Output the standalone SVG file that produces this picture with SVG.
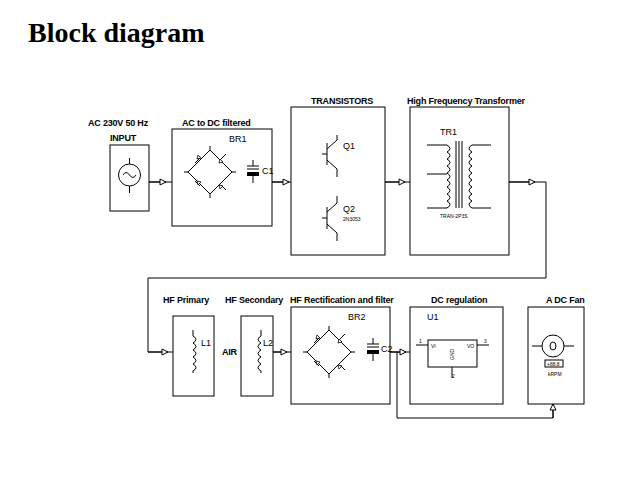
<svg xmlns="http://www.w3.org/2000/svg" width="638" height="478" viewBox="0 0 638 478">
<defs>
<style>
.b{fill:#fff;stroke:#000;stroke-width:1}
.w{fill:none;stroke:#000;stroke-width:1}
.t{font-family:"Liberation Sans",Arial,sans-serif;font-size:9px;font-weight:bold;letter-spacing:-0.2px}
.s{font-family:"Liberation Sans",Arial,sans-serif;font-size:9px}
.xs{font-family:"Liberation Sans",Arial,sans-serif;font-size:5px}
</style>
<marker id="a" markerWidth="8" markerHeight="8" refX="7" refY="4" orient="auto" markerUnits="userSpaceOnUse"><path d="M1,1 L7,4 L1,7 Z" fill="#fff" stroke="#000" stroke-width="1"/></marker>
<g id="bridge"><path d="M0,-22 L22,0 L0,22 L-22,0 Z M0,-26 L0,-22 M0,22 L0,26 M-26,0 L-22,0 M22,0 L26,0" class="w"/>
<path d="M-13,-13 l4,-1 l-3,-3 z M9,-9 l4,-1 l-3,-3 z M-13,9 l4,1 l-3,3 z M9,13 l4,1 l-3,3 z" fill="#fff" stroke="#000" stroke-width="0.8"/>
<path d="M-15,-9 l5,-5 M11,-13 l5,-5 M-15,9 l5,5 M11,13 l5,5" class="w"/></g>
</defs>
<text x="28" y="42" font-family="Liberation Serif,serif" font-size="28" font-weight="bold">Block diagram</text>
<g id="connectors" class="w">
<path d="M149,182 H172"/><path d="M149,182 H166" marker-end="url(#a)" class="w"/>
<path d="M272,182 H291"/><path d="M272,182 H289" marker-end="url(#a)" class="w"/>
<path d="M385,182 H410"/><path d="M385,182 H405" marker-end="url(#a)" class="w"/>
<path d="M509,182 H546 V278 H148 V352 H173"/>
<path d="M509,182 H535" marker-end="url(#a)" class="w"/>
<path d="M148,352 H168" marker-end="url(#a)" class="w"/>
<path d="M273,352 H291"/><path d="M273,352 H287" marker-end="url(#a)" class="w"/>
<path d="M390,352 H410"/><path d="M390,352 H406" marker-end="url(#a)" class="w"/>
<path d="M397,352 V418 H553 V404"/><path d="M553,418 V404" marker-end="url(#a)" class="w"/>
</g>
<g id="input"><text x="88" y="126" class="t">AC 230V 50 Hz</text><text x="110" y="141" class="t">INPUT</text>
<rect x="110" y="145" width="39" height="66" class="b"/>
<circle cx="129.5" cy="175" r="11" class="w"/><path d="M123,175 q3,-5 6.5,0 t6.5,0 M129.5,158 V164 M129.5,186 V193" class="w"/></g>
<g id="acdc"><text x="182" y="126" class="t">AC to DC filtered</text>
<rect x="172" y="129" width="100" height="97" class="b"/><text x="229" y="142" class="s">BR1</text>
<use href="#bridge" x="210" y="172"/>
<path d="M253,160 V166 M247,166 H259 M247,169 H259 M253,176 V183" class="w"/><rect x="247" y="172" width="12" height="4" fill="#000"/><text x="262" y="174" class="s">C1</text></g>
<g id="trans"><text x="311" y="104" class="t">TRANSISTORS</text>
<rect x="291" y="107" width="94" height="148" class="b"/>
<path d="M327,143 V165 M322,154 H327 M327,149 L337,140 V135 M327,160 L337,169 V177 M327,207 V229 M322,218 H327 M327,212 L337,203 V196 M327,224 L337,233 V241" class="w"/>
<text x="343" y="149" class="s">Q1</text><text x="343" y="212" class="s">Q2</text><text x="343" y="221" class="xs">2N3053</text></g>
<g id="hft"><text x="407" y="104" class="t">High Frequency Transformer</text>
<rect x="410" y="107" width="99" height="148" class="b"/><text x="440" y="135" class="s">TR1</text>
<path d="M427,145 H447 q6,3.5 0,7 q6,3.5 0,7 q6,3.5 0,7 q6,3.5 0,7 q6,3.5 0,7 q6,3.5 0,7 q6,3.5 0,7 q6,3.5 0,7 q6,3.5 0,7 H427 M427,174 H447 M456,141 V208 M459,141 V208 M462,141 V208 M491,145 H472 q-6,3.5 0,7 q-6,3.5 0,7 q-6,3.5 0,7 q-6,3.5 0,7 q-6,3.5 0,7 q-6,3.5 0,7 q-6,3.5 0,7 q-6,3.5 0,7 q-6,3.5 0,7 H491" class="w"/>
<text x="440" y="218" class="xs">TRAN-2P3S</text></g>
<g id="hfp"><text x="163" y="303" class="t">HF Primary</text><rect x="173" y="316" width="41" height="80" class="b"/>
<path d="M193,330 V336 q6,3.5 0,7 q6,3.5 0,7 q6,3.5 0,7 q6,3.5 0,7 q6,3.5 0,7 V373" class="w"/><text x="201" y="346" class="s">L1</text></g>
<text x="222" y="355" class="t">AIR</text>
<g id="hfs"><text x="225" y="303" class="t">HF Secondary</text><rect x="241" y="316" width="32" height="80" class="b"/>
<path d="M261,330 V336 q-6,3.5 0,7 q-6,3.5 0,7 q-6,3.5 0,7 q-6,3.5 0,7 q-6,3.5 0,7 V373" class="w"/><text x="263" y="346" class="s">L2</text></g>
<g id="hfr"><text x="290" y="303" class="t">HF Rectification and filter</text>
<rect x="291" y="307" width="99" height="97" class="b"/><text x="348" y="320" class="s">BR2</text>
<use href="#bridge" x="329" y="352"/>
<path d="M373,338 V344 M367,344 H379 M367,347 H379 M373,354 V361" class="w"/><rect x="367" y="350" width="12" height="4" fill="#000"/><text x="381" y="352" class="s">C2</text></g>
<g id="dcr"><text x="431" y="303" class="t">DC regulation</text>
<rect x="410" y="307" width="93" height="97" class="b"/><text x="427" y="320" class="s">U1</text>
<rect x="428" y="340" width="49" height="27" class="b"/><path d="M416,345 H428 M477,345 H489 M452,367 V378" class="w"/>
<text x="431" y="348" class="xs">VI</text><text x="467" y="348" class="xs">VO</text><text x="419" y="343" class="xs">1</text><text x="484" y="343" class="xs">3</text>
<text x="454" y="360" class="xs" transform="rotate(-90 454 360)">GND</text><text x="452" y="378" class="xs">2</text></g>
<g id="fan"><text x="546" y="303" class="t">A DC Fan</text>
<rect x="528" y="307" width="56" height="97" class="b"/>
<circle cx="553" cy="346" r="11" class="w"/><path d="M532,346 H542 M564,346 H574" class="w"/>
<ellipse cx="553" cy="346" rx="3" ry="4" class="w"/>
<rect x="545" y="360" width="18" height="7" class="b"/><text x="547" y="366" class="xs">+88.8</text><text x="548" y="376" class="xs">kRPM</text></g>
</svg>
